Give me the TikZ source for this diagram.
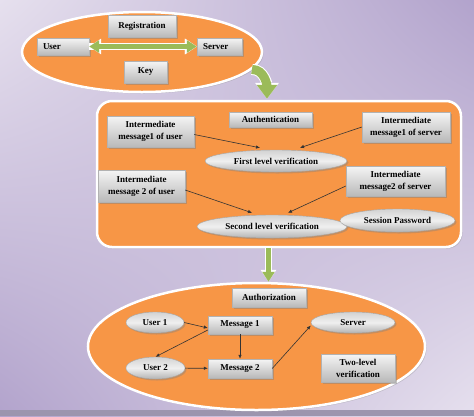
\documentclass[tikz,border=0pt]{standalone}
\usepackage{fontspec}
\setmainfont{Liberation Serif}
\usetikzlibrary{shapes.geometric,shadows,arrows.meta,shadings}
\definecolor{bglight}{HTML}{E6E0EE}
\definecolor{bgpurple}{HTML}{B2A3CC}
\definecolor{areaorange}{HTML}{F79646}
\definecolor{arrowgreen}{HTML}{9BBB59}
\definecolor{stripgray}{HTML}{9C95AE}

\begin{document}
\begin{tikzpicture}[x=1pt,y=-1pt,>={Latex[length=4pt,width=3.5pt]},
    every node/.style={font=\fontsize{9}{12}\selectfont\bfseries, align=center, inner sep=0pt},
    sz/.style 2 args={minimum width=#1pt, minimum height=#2pt},
    area/.style={fill=areaorange, draw=white, line width=2.5pt,
      drop shadow={opacity=0.3, shadow xshift=1.5pt, shadow yshift=-1.5pt}},
    gbox/.style={rectangle, draw=gray!60, line width=0.4pt, top color=gray!8, bottom color=gray!55,
      drop shadow={opacity=0.45, shadow xshift=1.5pt, shadow yshift=-1.5pt}},
    goval/.style={ellipse, draw=gray!70, line width=0.4pt, top color=gray!35, bottom color=gray!60,
      middle color=gray!12, drop shadow={opacity=0.4, shadow xshift=1.5pt, shadow yshift=-1.5pt}},
    link/.style={->, draw=black!80, line width=0.6pt},
    garrow/.style={draw=arrowgreen, line width=5pt, -{Triangle[width=12pt,length=10pt]},
      preaction={draw=white, line width=7pt, -{Triangle[width=15pt,length=12pt]}}}]
  \useasboundingbox (0,0) rectangle (474,416);
  \shade[upper left=bglight, upper right=bgpurple, lower left=bgpurple, lower right=bglight] (0,0) rectangle (474,416);
  \fill[stripgray] (0,410) rectangle (474,416);

  \node[area, ellipse, sz={240}{80}] (regarea) at (142,52) {};
  \node[area, rectangle, rounded corners=15pt, sz={364}{146}] (authrect) at (279,174) {};
  \node[area, ellipse, sz={337}{127}] (authzarea) at (256.5,346.5) {};

  \node[gbox, sz={68}{22}] (reg) at (142,26) {Registration};
  \node[gbox, sz={52}{17}, text width=40pt, align=left] (user) at (63,46.5) {User};
  \node[gbox, sz={45}{17}, text width=33pt, align=left] (server) at (219.5,46.5) {Server};
  \node[gbox, sz={43}{22}] (key) at (145.5,72) {Key};

  \node[gbox, sz={83}{15}] (auth) at (270.5,119.5) {Authentication};
  \node[gbox, sz={87}{31}] (im1u) at (150.5,131.5) {Intermediate\\message1 of user};
  \node[gbox, sz={88}{30}] (im1s) at (406,127) {Intermediate\\message1 of server};
  \node[goval, sz={142}{22}] (flv) at (276,161) {First level verification};
  \node[gbox, sz={87}{32}] (im2u) at (141.5,186) {Intermediate\\message 2 of user};
  \node[gbox, sz={99}{30}] (im2s) at (395.5,181) {Intermediate\\message2 of server};
  \node[goval, sz={150}{23}] (slv) at (272,226.5) {Second level verification};
  \node[goval, sz={115}{23}] (sesspw) at (397.5,220.5) {Session Password};

  \node[gbox, sz={74}{19}] (authz) at (269,297.5) {Authorization};
  \node[goval, sz={58}{21}] (u1) at (155,322.5) {User 1};
  \node[gbox, sz={64}{18}] (m1) at (240,325) {Message 1};
  \node[goval, sz={84}{21}] (srv) at (353,322.5) {Server};
  \node[goval, sz={59}{22}] (u2) at (155.5,368) {User 2};
  \node[gbox, sz={64}{19}] (m2) at (240,368.5) {Message 2};
  \node[gbox, sz={74}{28}] (tlv) at (358,368) {Two-level\\verification};

  \coordinate (bendend) at ([xshift=-12pt,yshift=1pt]authrect.north);
  \draw[garrow, {Triangle[width=12pt,length=10pt]}-{Triangle[width=12pt,length=10pt]},
    preaction={draw=white, line width=7pt, {Triangle[width=15pt,length=12pt]}-{Triangle[width=15pt,length=12pt]}}]
    (user) -- (server);
  \draw[draw=arrowgreen, line width=9pt, -{Triangle[width=20pt,length=14pt]},
    preaction={draw=white, line width=11pt, -{Triangle[width=23pt,length=16pt]}}]
    (regarea.-9) to[out=0,in=90] (bendend);
  \draw[garrow] ([xshift=-10.5pt]authrect.south) -- ([xshift=-10.5pt]authrect.south |- authzarea.north);

  \draw[link] ([yshift=-3pt]im1u.east) -- ([xshift=-16pt,yshift=2pt]flv.north);
  \draw[link] (im1s.west) -- ([xshift=24pt,yshift=2pt]flv.north);
  \draw[link] ([yshift=-4pt]im2u.east) -- ([xshift=-20pt,yshift=2pt]slv.north);
  \draw[link] ([yshift=-5pt]im2s.west) -- ([xshift=16pt,yshift=2pt]slv.north);

  \draw[link] (u1.east) -- ([yshift=-3pt]m1.west);
  \draw[link] ([yshift=-5pt]m1.west) -- (u2.north);
  \draw[link] (m1) -- (m2);
  \draw[link] (u2) -- (m2);
  \draw[link] (m2.east) -- ([yshift=-3pt]srv.west);
\end{tikzpicture}
\end{document}
